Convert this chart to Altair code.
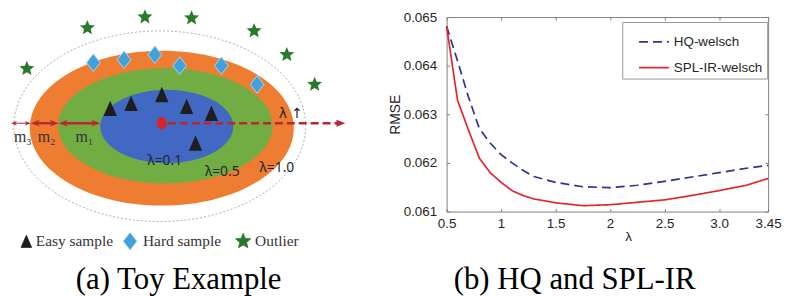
import math
import altair as alt
import pandas as pd

# ---------------- Panel (b): RMSE vs lambda ----------------
lam = [0.5, 0.6, 0.7, 0.8, 0.9, 1.0, 1.1, 1.2, 1.3, 1.5, 1.75, 2.0, 2.25, 2.5, 2.75, 3.0, 3.25, 3.45]
hq_welsch = [0.06481, 0.06410, 0.06336, 0.06271, 0.06241, 0.06217, 0.06200, 0.06185, 0.06172,
             0.06160, 0.06151, 0.06149, 0.06154, 0.06162, 0.06171, 0.06180, 0.06189, 0.06195]
spl_ir_welsch = [0.06481, 0.06329, 0.06268, 0.06210, 0.06180, 0.06160, 0.06143, 0.06133, 0.06126,
                 0.06118, 0.06112, 0.06114, 0.06119, 0.06124, 0.06133, 0.06143, 0.06154, 0.06168]
series_names = ["HQ-welsch", "SPL-IR-welsch"]
x_ticks = [0.5, 1, 1.5, 2, 2.5, 3, 3.45]
x_tick_labels = ["0.5", "1", "1.5", "2", "2.5", "3.0", "3.45"]
y_ticks = [0.061, 0.062, 0.063, 0.064, 0.065]

# ---------------- Panel (a): toy example (figure coordinates) ----------------
region_lambda = ["1.0", "0.5", "0.1"]
region_cx = [162, 165.5, 167]
region_cy = [122, 119.7, 120.3]
region_a = [133, 108, 67]
region_b = [78, 58, 37]
boundary_cx, boundary_cy, boundary_a, boundary_b = [160], [120], [147], [96]

easy_x = [110, 131, 162, 187, 212, 196]
easy_y = [102, 97, 88, 100, 107, 137]
hard_x = [93, 124, 155, 180, 222, 258]
hard_y = [56, 53, 48, 59, 59, 78]
outlier_x = [26, 87, 145, 192, 255, 288, 316]
outlier_y = [62, 21, 10, 11, 24, 48, 78]
center_x, center_y = [162], [117]

margin_labels = ["m\u2083", "m\u2082", "m\u2081"]
margin_from = [10, 30, 58]
margin_to = [30, 58, 100]
margin_label_x = [22, 46, 84]
margin_y = 117
margin_label_y = 131

lambda_text = ["\u03bb=0.1", "\u03bb=0.5", "\u03bb=1.0"]
lambda_text_x = [165, 223, 278]
lambda_text_y = [155, 166, 162]
grow_from, grow_to, grow_y = 168, 347, 117
grow_label, grow_label_x, grow_label_y = "\u03bb \u2191", 292, 108

legend_items = ["Easy sample", "Hard sample", "Outlier"]
legend_marker_x = [25.5, 130, 244]
legend_text_x = [35, 143, 256]
legend_y = 236

captions = ["(a) Toy Example", "(b) HQ and SPL-IR"]
caption_x = [179, 578]
caption_y = 284

# ---------------- styles ----------------
region_colors = ["#ee7d31", "#72ad44", "#4169c4"]
C_EASY, C_HARD, C_HARD_EDGE, C_OUT = "#1e1e1e", "#3ea2dd", "#a6d7f2", "#2a7a2e"
C_ARROW = "#b8282e"
SERIF = "Liberation Serif"
SANS = "Liberation Sans"


def ellipse_path(r):
    return f"M-1,0A1,{r:.4f},0,1,1,1,0A1,{r:.4f},0,1,1,-1,0Z"


def star_path(inner=0.45):
    pts = []
    for i in range(10):
        ang = math.radians(-90 + 36 * i)
        rr = 1 if i % 2 == 0 else inner
        pts.append(f"{rr*math.cos(ang):.4f},{rr*math.sin(ang):.4f}")
    return "M" + "L".join(pts) + "Z"


TRI = "M0,-1L0.87,1L-0.87,1Z"
DIA = "M0,-1L0.78,0L0,1L-0.78,0Z"
STAR = star_path()
HEAD_R = "M1,0L-1,-0.75L-0.45,0L-1,0.75Z"
HEAD_L = "M-1,0L1,-0.75L0.45,0L1,0.75Z"
DOT = "M-0.8,0A0.8,1,0,1,1,0.8,0A0.8,1,0,1,1,-0.8,0Z"

W, H = 324, 196
FX = alt.Scale(domain=[0, 790], range=[-449, 341], nice=False, zero=False)
FY = alt.Scale(domain=[0, 296], range=[-10, 286], nice=False, zero=False)


def fx(f):
    return alt.X(f, type="quantitative", scale=FX, axis=None)


def fy(f):
    return alt.Y(f, type="quantitative", scale=FY, axis=None)


layers = []

# boundary (dotted)
bdf = pd.DataFrame({"x": boundary_cx, "y": boundary_cy,
                    "shape": [ellipse_path(b / a) for a, b in zip(boundary_a, boundary_b)],
                    "size": [(2 * a) ** 2 for a in boundary_a]})
layers.append(alt.Chart(bdf).mark_point(filled=False, color="#9a9a9a", strokeWidth=0.8,
                                        strokeDash=[2, 2], opacity=1).encode(
    x=fx("x"), y=fy("y"), shape=alt.Shape("shape:N", scale=None), size=alt.Size("size:Q", scale=None)))

# regions
rdf = pd.DataFrame({"lam": region_lambda, "x": region_cx, "y": region_cy,
                    "shape": [ellipse_path(b / a) for a, b in zip(region_a, region_b)],
                    "size": [(2 * a) ** 2 for a in region_a], "c": region_colors})
layers.append(alt.Chart(rdf).mark_point(filled=True, opacity=1, strokeWidth=0).encode(
    x=fx("x"), y=fy("y"), shape=alt.Shape("shape:N", scale=None),
    size=alt.Size("size:Q", scale=None), color=alt.Color("c:N", scale=None)))

# growth arrow
gdf = pd.DataFrame({"x0": [grow_from], "x1": [grow_to - 6], "y": [grow_y]})
layers.append(alt.Chart(gdf).mark_rule(color=C_ARROW, strokeWidth=2.4, strokeDash=[8, 4]).encode(
    x=fx("x0"), x2="x1", y=fy("y")))
ghead = pd.DataFrame({"x": [grow_to - 4.5], "y": [grow_y]})
layers.append(alt.Chart(ghead).mark_point(filled=True, opacity=1, color=C_ARROW, strokeWidth=0,
                                          shape="M1,0L-1,-0.8L-1,0.8Z", size=81).encode(
    x=fx("x"), y=fy("y")))

# margin arrows
mdf = pd.DataFrame({"x0": [a + 3 for a in margin_from], "x1": [b - 3 for b in margin_to],
                    "y": [margin_y] * 3, "w": [1.0, 2.4, 2.4]})
layers.append(alt.Chart(mdf).mark_rule(color=C_ARROW).encode(
    x=fx("x0"), x2="x1", y=fy("y"), strokeWidth=alt.StrokeWidth("w:Q", scale=None)))
hx, hs, hsz = [], [], []
for a, b, w in zip(margin_from, margin_to, [1.0, 2.4, 2.4]):
    s = 6 if w < 2 else 9
    hx += [a + s / 2, b - s / 2]
    hs += [HEAD_L, HEAD_R]
    hsz += [s * s, s * s]
hdf = pd.DataFrame({"x": hx, "y": [margin_y] * len(hx), "shape": hs, "size": hsz})
layers.append(alt.Chart(hdf).mark_point(filled=True, opacity=1, color=C_ARROW, strokeWidth=0).encode(
    x=fx("x"), y=fy("y"), shape=alt.Shape("shape:N", scale=None), size=alt.Size("size:Q", scale=None)))

# center dot
layers.append(alt.Chart(pd.DataFrame({"x": center_x, "y": center_y})).mark_point(
    filled=True, opacity=1, color="#dd2222", strokeWidth=0, shape=DOT, size=150).encode(
    x=fx("x"), y=fy("y")))

# samples
layers.append(alt.Chart(pd.DataFrame({"x": easy_x, "y": easy_y})).mark_point(
    filled=True, opacity=1, color=C_EASY, strokeWidth=0, shape=TRI, size=240).encode(x=fx("x"), y=fy("y")))
layers.append(alt.Chart(pd.DataFrame({"x": hard_x, "y": hard_y})).mark_point(
    filled=True, opacity=1, fill=C_HARD, stroke=C_HARD_EDGE, strokeWidth=1, shape=DIA, size=310).encode(
    x=fx("x"), y=fy("y")))
layers.append(alt.Chart(pd.DataFrame({"x": outlier_x, "y": outlier_y})).mark_point(
    filled=True, opacity=1, color=C_OUT, strokeWidth=0, shape=STAR, size=250).encode(x=fx("x"), y=fy("y")))

# texts
layers.append(alt.Chart(pd.DataFrame({"t": margin_labels, "x": margin_label_x, "y": [margin_label_y] * 3})).mark_text(
    font=SERIF, fontSize=16, color="#333333", baseline="middle", align="center").encode(
    x=fx("x"), y=fy("y"), text="t:N"))
layers.append(alt.Chart(pd.DataFrame({"t": lambda_text, "x": lambda_text_x, "y": lambda_text_y})).mark_text(
    font="Noto Sans", fontSize=14, color="#262626", baseline="middle", align="center").encode(
    x=fx("x"), y=fy("y"), text="t:N"))
layers.append(alt.Chart(pd.DataFrame({"t": [grow_label], "x": [grow_label_x], "y": [grow_label_y]})).mark_text(
    font="DejaVu Sans", fontSize=14, color="#262626", baseline="middle", align="center").encode(
    x=fx("x"), y=fy("y"), text="t:N"))

# legend of panel (a)
lm = pd.DataFrame({"x": legend_marker_x, "y": [legend_y] * 3, "shape": [TRI, DIA, STAR],
                   "size": [150, 310, 260], "c": [C_EASY, C_HARD, C_OUT],
                   "edge": [C_EASY, C_HARD_EDGE, C_OUT]})
layers.append(alt.Chart(lm).mark_point(filled=True, opacity=1, strokeWidth=0.8).encode(
    x=fx("x"), y=fy("y"), shape=alt.Shape("shape:N", scale=None), size=alt.Size("size:Q", scale=None),
    fill=alt.Fill("c:N", scale=None), stroke=alt.Stroke("edge:N", scale=None)))
layers.append(alt.Chart(pd.DataFrame({"t": legend_items, "x": legend_text_x, "y": [legend_y] * 3})).mark_text(
    font=SERIF, fontSize=15.5, color="#333333", baseline="middle", align="left").encode(
    x=fx("x"), y=fy("y"), text="t:N"))

# captions
layers.append(alt.Chart(pd.DataFrame({"t": captions, "x": caption_x, "y": [caption_y] * 2})).mark_text(
    font=SERIF, fontSize=31, color="#000000", baseline="alphabetic", align="center").encode(
    x=fx("x"), y=fy("y"), text="t:N"))

# ---------------- Panel (b) layers ----------------
n = len(lam)
ldf = pd.DataFrame({"lam": lam * 2, "rmse": hq_welsch + spl_ir_welsch,
                    "series": [series_names[0]] * n + [series_names[1]] * n})
XS = alt.Scale(domain=[0.5, 3.45], nice=False, zero=False)
YS = alt.Scale(domain=[0.061, 0.065], nice=False, zero=False)
label_expr = ("[" + ",".join(f"'{s}'" for s in x_tick_labels) + "][indexof(["
              + ",".join(str(v) for v in x_ticks) + "], datum.value)]")

leg = alt.Legend(orient="none", legendX=177, legendY=5, title=None, symbolType="stroke",
                 symbolSize=900, symbolStrokeWidth=1.7, labelFont=SANS, labelFontSize=13.5,
                 labelColor="#262626", strokeColor="#9a9a9a", fillColor="white", padding=4,
                 symbolOffset=12, rowPadding=3, labelOffset=4, cornerRadius=0)

lineA = alt.Chart(ldf).mark_line(strokeWidth=1.7).encode(
    x=alt.X("lam:Q", scale=XS, axis=alt.Axis(
        orient="bottom", values=x_ticks, labelExpr=label_expr, ticks=False, tickSize=0, domain=False,
        grid=False, labelPadding=5, labelFlush=False, labelFont=SANS, labelFontSize=13.5,
        labelColor="#262626", title="\u03bb", titleFont=SANS, titleFontSize=13.5, titleFontWeight="normal",
        titleColor="#262626", titleX=183, titleY=25, titleBaseline="middle", titleAlign="center")),
    y=alt.Y("rmse:Q", scale=YS, axis=alt.Axis(
        orient="left", values=y_ticks, format=".3f", ticks=False, tickSize=0, domain=False, grid=False,
        labelPadding=10, labelFont=SANS, labelFontSize=13.5, labelColor="#262626", title="RMSE",
        titleFont=SANS, titleFontSize=14, titleFontWeight="normal", titleColor="#262626",
        titleX=-51, titleY=98, titleBaseline="middle", titleAlign="center", titleAngle=270)),
    color=alt.Color("series:N", scale=alt.Scale(domain=series_names, range=["#2c3590", "#e3262b"]), legend=leg),
    strokeDash=alt.StrokeDash("series:N", scale=alt.Scale(domain=series_names, range=[[9, 5], [1, 0]]), legend=leg),
)


def tick_axis(orient, vals, offset):
    return alt.Axis(orient=orient, values=vals, labels=False, ticks=True, tickSize=3, tickColor="#808080",
                    domain=False, grid=False, title=None, offset=offset)


lineB = alt.Chart(ldf).mark_line(strokeOpacity=0).encode(
    x=alt.X("lam:Q", scale=XS, axis=tick_axis("top", x_ticks, -H)),
    y=alt.Y("rmse:Q", scale=YS, axis=tick_axis("right", y_ticks, -W)))
lineC = alt.Chart(ldf).mark_line(strokeOpacity=0).encode(
    x=alt.X("lam:Q", scale=XS, axis=tick_axis("bottom", x_ticks, -H)),
    y=alt.Y("rmse:Q", scale=YS, axis=tick_axis("left", y_ticks, -W)))

right = alt.layer(lineA, lineB, lineC).resolve_axis(x="independent", y="independent")

chart = alt.layer(*layers, right).resolve_scale(x="independent", y="independent").properties(
    width=W, height=H, padding={"left": 2, "top": 0, "right": 0, "bottom": 0}, background="white"
).configure_view(stroke="#808080", strokeWidth=1)

chart.save("out.html", embed_options={"renderer": "svg", "actions": False})
